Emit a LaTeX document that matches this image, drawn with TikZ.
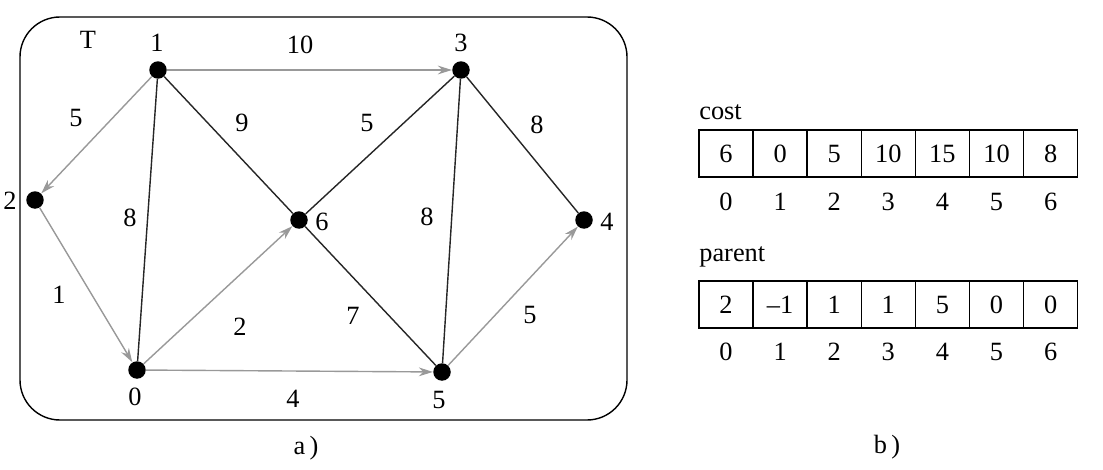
\documentclass[tikz,border=0pt]{standalone}
\usepackage{fontspec}
\setmainfont{Liberation Serif}
\usetikzlibrary{arrows.meta}
\tikzset{
  vertex/.style={circle, fill=black, inner sep=0pt, minimum size=0.35cm},
  tree/.style={draw=black!40, line width=0.8pt, -{Stealth[length=8pt,width=5pt]}},
  plain/.style={draw=black!85, line width=0.8pt},
  cell/.style={draw, line width=0.8pt, minimum width=1.082cm, minimum height=0.94cm, inner sep=0pt, outer sep=0pt},
}
\begin{document}
\begin{tikzpicture}[x=0.02cm, y=-0.02cm, font=\fontsize{15}{17}\selectfont]
\useasboundingbox (0,0) rectangle (1103,470);
\draw[line width=0.8pt, rounded corners=0.8cm] (20,17) rectangle (627,420);
\node at (88,40) {T};

\node[vertex] (v0) at (137,370) {};
\node[vertex] (v1) at (158,70) {};
\node[vertex] (v2) at (35,200) {};
\node[vertex] (v3) at (461,70) {};
\node[vertex] (v4) at (584,220) {};
\node[vertex] (v5) at (442,372) {};
\node[vertex] (v6) at (299,220) {};

\node at (157,43) {1};
\node at (461,43) {3};
\node at (10,201) {2};
\node at (322,222) {6};
\node at (607,222) {4};
\node at (135,397) {0};
\node at (439,400) {5};

% tree edges
\draw[tree] (v1) -- (v3);
\draw[tree] (v1) -- (v2);
\draw[tree] (v2) -- (v0);
\draw[tree] (v0) -- (v6);
\draw[tree] (v0) -- (v5);
\draw[tree] (v5) -- (v4);
% other edges
\draw[plain] (v1) -- (v0);
\draw[plain] (v1) -- (v6);
\draw[plain] (v6) -- (v3);
\draw[plain] (v3) -- (v5);
\draw[plain] (v3) -- (v4);
\draw[plain] (v6) -- (v5);

\node at (300,45) {10};
\node at (76,118) {5};
\node at (242,123) {9};
\node at (367,123) {5};
\node at (537,125) {8};
\node at (130,218) {8};
\node at (427,217) {8};
\node at (59,295) {1};
\node at (240,327) {2};
\node at (353,316) {7};
\node at (530,315) {5};
\node at (293,399) {4};
\node at (306,448) {a\,)};

% arrays
\node[anchor=west, inner sep=0pt] at (699,112) {cost};
\foreach \v [count=\i from 0] in {6,0,5,10,15,10,8}
{
    \node[cell] (c\i) at (726+54.1*\i,153.5) {\v};
    \node at (726+54.1*\i,202) {\i};
}
\node[anchor=west, inner sep=0pt] at (699,257) {parent};
\foreach \v [count=\i from 0] in {2,--1,1,1,5,0,0}
{
    \node[cell] (p\i) at (726+54.1*\i,304.5) {\v};
    \node at (726+54.1*\i,352) {\i};
}
\node at (887,447) {b\,)};
\end{tikzpicture}
\end{document}
